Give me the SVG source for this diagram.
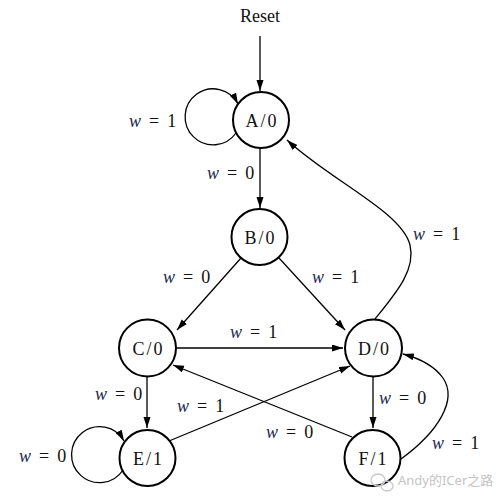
<svg xmlns="http://www.w3.org/2000/svg" width="500" height="504" viewBox="0 0 500 504">
<style>
.n{fill:#fff;stroke:#000;stroke-width:2}
.t{font-family:"Liberation Serif","Times New Roman",serif;font-size:18px;fill:#111}
.c{text-anchor:middle}
.i{font-style:italic;fill:#1c2a50}
.e{fill:none;stroke:#000;stroke-width:1.3}
.wm{font-family:"Noto Sans","Noto Sans CJK SC",sans-serif;font-size:13px;fill:#c4c4c4}
</style>
<defs>
<marker id="ar" markerUnits="userSpaceOnUse" markerWidth="12" markerHeight="8" refX="11" refY="3.5" orient="auto">
<path d="M0,0 L11,3.5 L0,7 z" fill="#000"/>
</marker>
</defs>
<g id="connectors">
<path class="e" d="M260,36 L260,91" marker-end="url(#ar)"/>
<path class="e" d="M236,133 A28,28 0 1,1 238,104" marker-end="url(#ar)"/>
<path class="e" d="M260,148 L260,208" marker-end="url(#ar)"/>
<path class="e" d="M241,258 L177,330" marker-end="url(#ar)"/>
<path class="e" d="M279,258 L345,330" marker-end="url(#ar)"/>
<path class="e" d="M177,348 L343,348" marker-end="url(#ar)"/>
<path class="e" d="M147,377 L147,428" marker-end="url(#ar)"/>
<path class="e" d="M373,377 L373,428" marker-end="url(#ar)"/>
<path class="e" d="M169,441 L350,366" marker-end="url(#ar)"/>
<path class="e" d="M352,437 L173,365" marker-end="url(#ar)"/>
<path class="e" d="M123,470 A28,28 0 1,1 124,441" marker-end="url(#ar)"/>
<path class="e" d="M375,319 C396,293 416,270 410,245 C402,212 330,180 287,140" marker-end="url(#ar)"/>
<path class="e" d="M401,459 C438,432 458,400 443,378 C433,364 418,358 403,354" marker-end="url(#ar)"/>
</g>
<text class="t c" x="260" y="22">Reset</text>
<g id="A"><circle class="n" cx="261" cy="120" r="28"/><text class="t c" x="261" y="127">A<tspan dx="2">/</tspan><tspan dx="2">0</tspan></text></g>
<g id="B"><circle class="n" cx="259.5" cy="237" r="28"/><text class="t c" x="259.5" y="244">B<tspan dx="2">/</tspan><tspan dx="2">0</tspan></text></g>
<g id="C"><circle class="n" cx="147.5" cy="348" r="28.5"/><text class="t c" x="147.5" y="355">C<tspan dx="2">/</tspan><tspan dx="2">0</tspan></text></g>
<g id="D"><circle class="n" cx="373.5" cy="348" r="28.5"/><text class="t c" x="373.5" y="355">D<tspan dx="2">/</tspan><tspan dx="2">0</tspan></text></g>
<g id="E"><circle class="n" cx="147.5" cy="458" r="28"/><text class="t c" x="147.5" y="465">E<tspan dx="2">/</tspan><tspan dx="2">1</tspan></text></g>
<g id="F"><circle class="n" cx="372.5" cy="458" r="28"/><text class="t c" x="372.5" y="465">F<tspan dx="2">/</tspan><tspan dx="2">1</tspan></text></g>
<g id="labels">
<text class="t" x="129" y="127"><tspan class="i">w</tspan><tspan dx="8">=</tspan><tspan dx="8">1</tspan></text>
<text class="t" x="207" y="179"><tspan class="i">w</tspan><tspan dx="8">=</tspan><tspan dx="8">0</tspan></text>
<text class="t" x="163" y="283"><tspan class="i">w</tspan><tspan dx="8">=</tspan><tspan dx="8">0</tspan></text>
<text class="t" x="312" y="283"><tspan class="i">w</tspan><tspan dx="8">=</tspan><tspan dx="8">1</tspan></text>
<text class="t" x="230" y="338"><tspan class="i">w</tspan><tspan dx="8">=</tspan><tspan dx="8">1</tspan></text>
<text class="t" x="95" y="400"><tspan class="i">w</tspan><tspan dx="8">=</tspan><tspan dx="8">0</tspan></text>
<text class="t" x="177" y="412"><tspan class="i">w</tspan><tspan dx="8">=</tspan><tspan dx="8">1</tspan></text>
<text class="t" x="266" y="438"><tspan class="i">w</tspan><tspan dx="8">=</tspan><tspan dx="8">0</tspan></text>
<text class="t" x="379" y="404"><tspan class="i">w</tspan><tspan dx="8">=</tspan><tspan dx="8">0</tspan></text>
<text class="t" x="432" y="449"><tspan class="i">w</tspan><tspan dx="8">=</tspan><tspan dx="8">1</tspan></text>
<text class="t" x="19" y="462"><tspan class="i">w</tspan><tspan dx="8">=</tspan><tspan dx="8">0</tspan></text>
<text class="t" x="413" y="240"><tspan class="i">w</tspan><tspan dx="8">=</tspan><tspan dx="8">1</tspan></text>
</g>
<g id="watermark">
<ellipse cx="378" cy="480" rx="7" ry="6" fill="none" stroke="#c8c8c8" stroke-width="1.3"/>
<ellipse cx="387" cy="486" rx="6" ry="5" fill="none" stroke="#c8c8c8" stroke-width="1.3"/>
<text class="wm" x="398" y="485">Andy的ICer之路</text>
</g>
</svg>
